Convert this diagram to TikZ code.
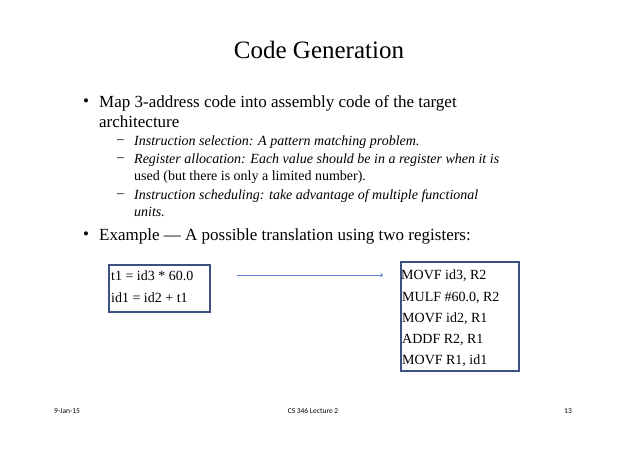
\documentclass[tikz,border=0pt]{standalone}
\usepackage{fontspec}
\setmainfont{Liberation Serif}
\newfontfamily\foot{Carlito}
\definecolor{boxc}{RGB}{60,80,130}
\definecolor{arrc}{RGB}{90,130,200}
\begin{document}
\begin{tikzpicture}[x=1pt,y=-1pt,
  txt/.style={anchor=west,inner sep=0pt},
  big/.style={txt,font=\fontsize{17}{19}\selectfont},
  sub/.style={txt,font=\fontsize{14}{15}\selectfont\itshape},
  code/.style={txt,font=\fontsize{14}{16}\selectfont},
  ft/.style={font=\foot\fontsize{7.5}{9}\selectfont,inner sep=0pt},
  cbox/.style={draw=boxc,line width=1.2pt}]
\useasboundingbox (0,0) rectangle (638,451);
\node[font=\fontsize{25}{28}\selectfont,inner sep=0pt] (title) at (319,50) {Code Generation};
\node[big] (b1) at (83,103) {•};
\node[big] (t1) at (99,103) {Map 3-address code into assembly code of the target};
\node[big] (t1b) at (99,122) {architecture};
\node[sub] (d1) at (117,142) {–};
\node[sub] (s1) at (134,142) {Instruction selection: A pattern matching problem.};
\node[sub] (d2) at (117,160) {–};
\node[sub] (s2) at (134,160) {Register allocation: Each value should be in a register when it is};
\node[txt,font=\fontsize{14}{15}\selectfont] (s2b) at (134,177) {used (but there is only a limited number).};
\node[sub] (d3) at (117,196) {–};
\node[sub] (s3) at (134,196) {Instruction scheduling: take advantage of multiple functional};
\node[sub] (s3b) at (134,212) {units.};
\node[big] (b2) at (83,236) {•};
\node[big] (t2) at (99,236) {Example — A possible translation using two registers:};
\draw[cbox] (109,265) rectangle (210,312);
\node[code] (c1) at (111,276) {t1 = id3 * 60.0};
\node[code] (c2) at (111,298) {id1 = id2 + t1};
\draw[cbox] (401,262) rectangle (519,371);
\node[code] (a1) at (401,276) {MOVF id3, R2};
\node[code] (a2) at (402,298) {MULF \#60.0, R2};
\node[code] (a3) at (402,319) {MOVF id2, R1};
\node[code] (a4) at (402,340) {ADDF R2, R1};
\node[code] (a5) at (402,361) {MOVF R1, id1};
\coordinate (p) at (237,275);
\coordinate (q) at (383,275);
\draw[arrc,line width=0.8pt,->] (p) -- (q);
\node[ft] (f1) at (67,411) {9-Jan-15};
\node[ft] (f2) at (313,411) {CS 346 Lecture 2};
\node[ft] (f3) at (568,411) {13};
\end{tikzpicture}
\end{document}
